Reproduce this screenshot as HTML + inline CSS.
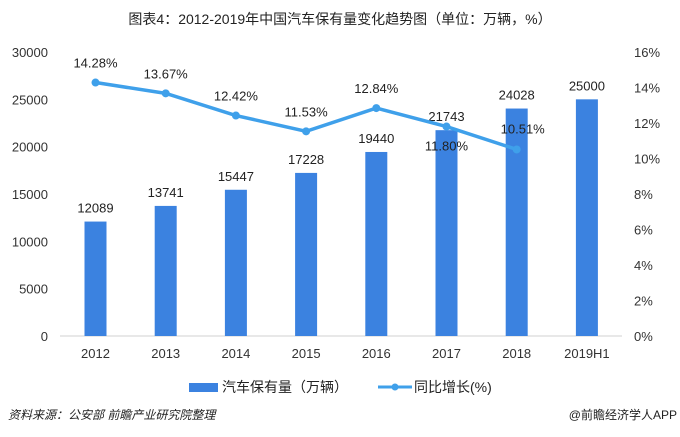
<!DOCTYPE html>
<html><head><meta charset="utf-8"><style>
body{margin:0;background:#fff;}
svg{display:block;font-family:"Liberation Sans","Noto Sans CJK SC",sans-serif;}
</style></head><body>
<svg width="680" height="437" viewBox="0 0 680 437">
<text x="340" y="24" text-anchor="middle" font-size="14" fill="#222">图表4：2012-2019年中国汽车保有量变化趋势图（单位：万辆，%）</text>
<g id="axes"></g>
<g id="bars"></g>
<g id="line"></g>
<g>
<rect x="189" y="383" width="29" height="9" fill="#3b82e0"/>
<text x="222" y="392" font-size="14" fill="#222">汽车保有量（万辆）</text>
<line x1="378" y1="387" x2="412" y2="387" stroke="#3fa0ea" stroke-width="3"/>
<circle cx="395" cy="387" r="3.5" fill="#3fa0ea"/>
<text x="414" y="392" font-size="14" fill="#222">同比增长(%)</text>
</g>
<text x="8" y="419" font-size="12" font-style="italic" fill="#222">资料来源：公安部 前瞻产业研究院整理</text>
<text x="677" y="419" font-size="12" text-anchor="end" fill="#222">@前瞻经济学人APP</text>
</svg>
<script>
const categories=["2012","2013","2014","2015","2016","2017","2018","2019H1"];
const ownership=[12089,13741,15447,17228,19440,21743,24028,25000];
const growth=[14.28,13.67,12.42,11.53,12.84,11.80,10.51];
const leftTicks=[0,5000,10000,15000,20000,25000,30000];
const rightTicks=[0,2,4,6,8,10,12,14,16];
const NS="http://www.w3.org/2000/svg";
const y0=336,yTop=52;
const yL=v=>y0-v/30000*(y0-yTop);
const yR=v=>y0-v/16*(y0-yTop);
const xC=i=>95.5+i*70.2;
function mk(t,a,p,txt){const e=document.createElementNS(NS,t);for(const k in a)e.setAttribute(k,a[k]);if(txt!==undefined)e.textContent=txt;p.appendChild(e);return e;}
const ax=document.getElementById('axes');
mk('line',{x1:60,y1:y0,x2:622,y2:y0,stroke:'#d0d0d0'},ax);
leftTicks.forEach(v=>{const t=mk('text',{x:48,y:yL(v)+5,'text-anchor':'end','font-size':13,fill:'#333'},ax,String(v));

});
rightTicks.forEach(v=>{const t=mk('text',{x:634,y:yR(v)+5,'font-size':13,fill:'#333'},ax,v+'%');

});
categories.forEach((c,i)=>{const t=mk('text',{x:xC(i),y:358,'text-anchor':'middle','font-size':13,fill:'#333'},ax,c);

});
const bg=document.getElementById('bars');
ownership.forEach((v,i)=>{const r=mk('rect',{x:xC(i)-11,y:yL(v),width:22,height:y0-yL(v),fill:'#3b82e0'},bg);


const t=mk('text',{x:xC(i),y:yL(v)-9,'text-anchor':'middle','font-size':13,fill:'#222'},bg,String(v));

});
const lg=document.getElementById('line');
const pts=growth.map((v,i)=>xC(i)+','+yR(v)).join(' ');
const pl=mk('polyline',{points:pts,fill:'none',stroke:'#3fa0ea','stroke-width':3.5},lg);


growth.forEach((v,i)=>{const c=mk('circle',{cx:xC(i),cy:yR(v),r:4,fill:'#3fa0ea'},lg);


let lx=xC(i),ly=yR(v)-15;
if(i===5){ly=yR(v)+24;}
if(i===6){lx=xC(i)+6;ly=yR(v)-16;}
const t=mk('text',{x:lx,y:ly,'text-anchor':'middle','font-size':13,fill:'#222'},lg,v.toFixed(2)+'%');

});
</script>
</body></html>
